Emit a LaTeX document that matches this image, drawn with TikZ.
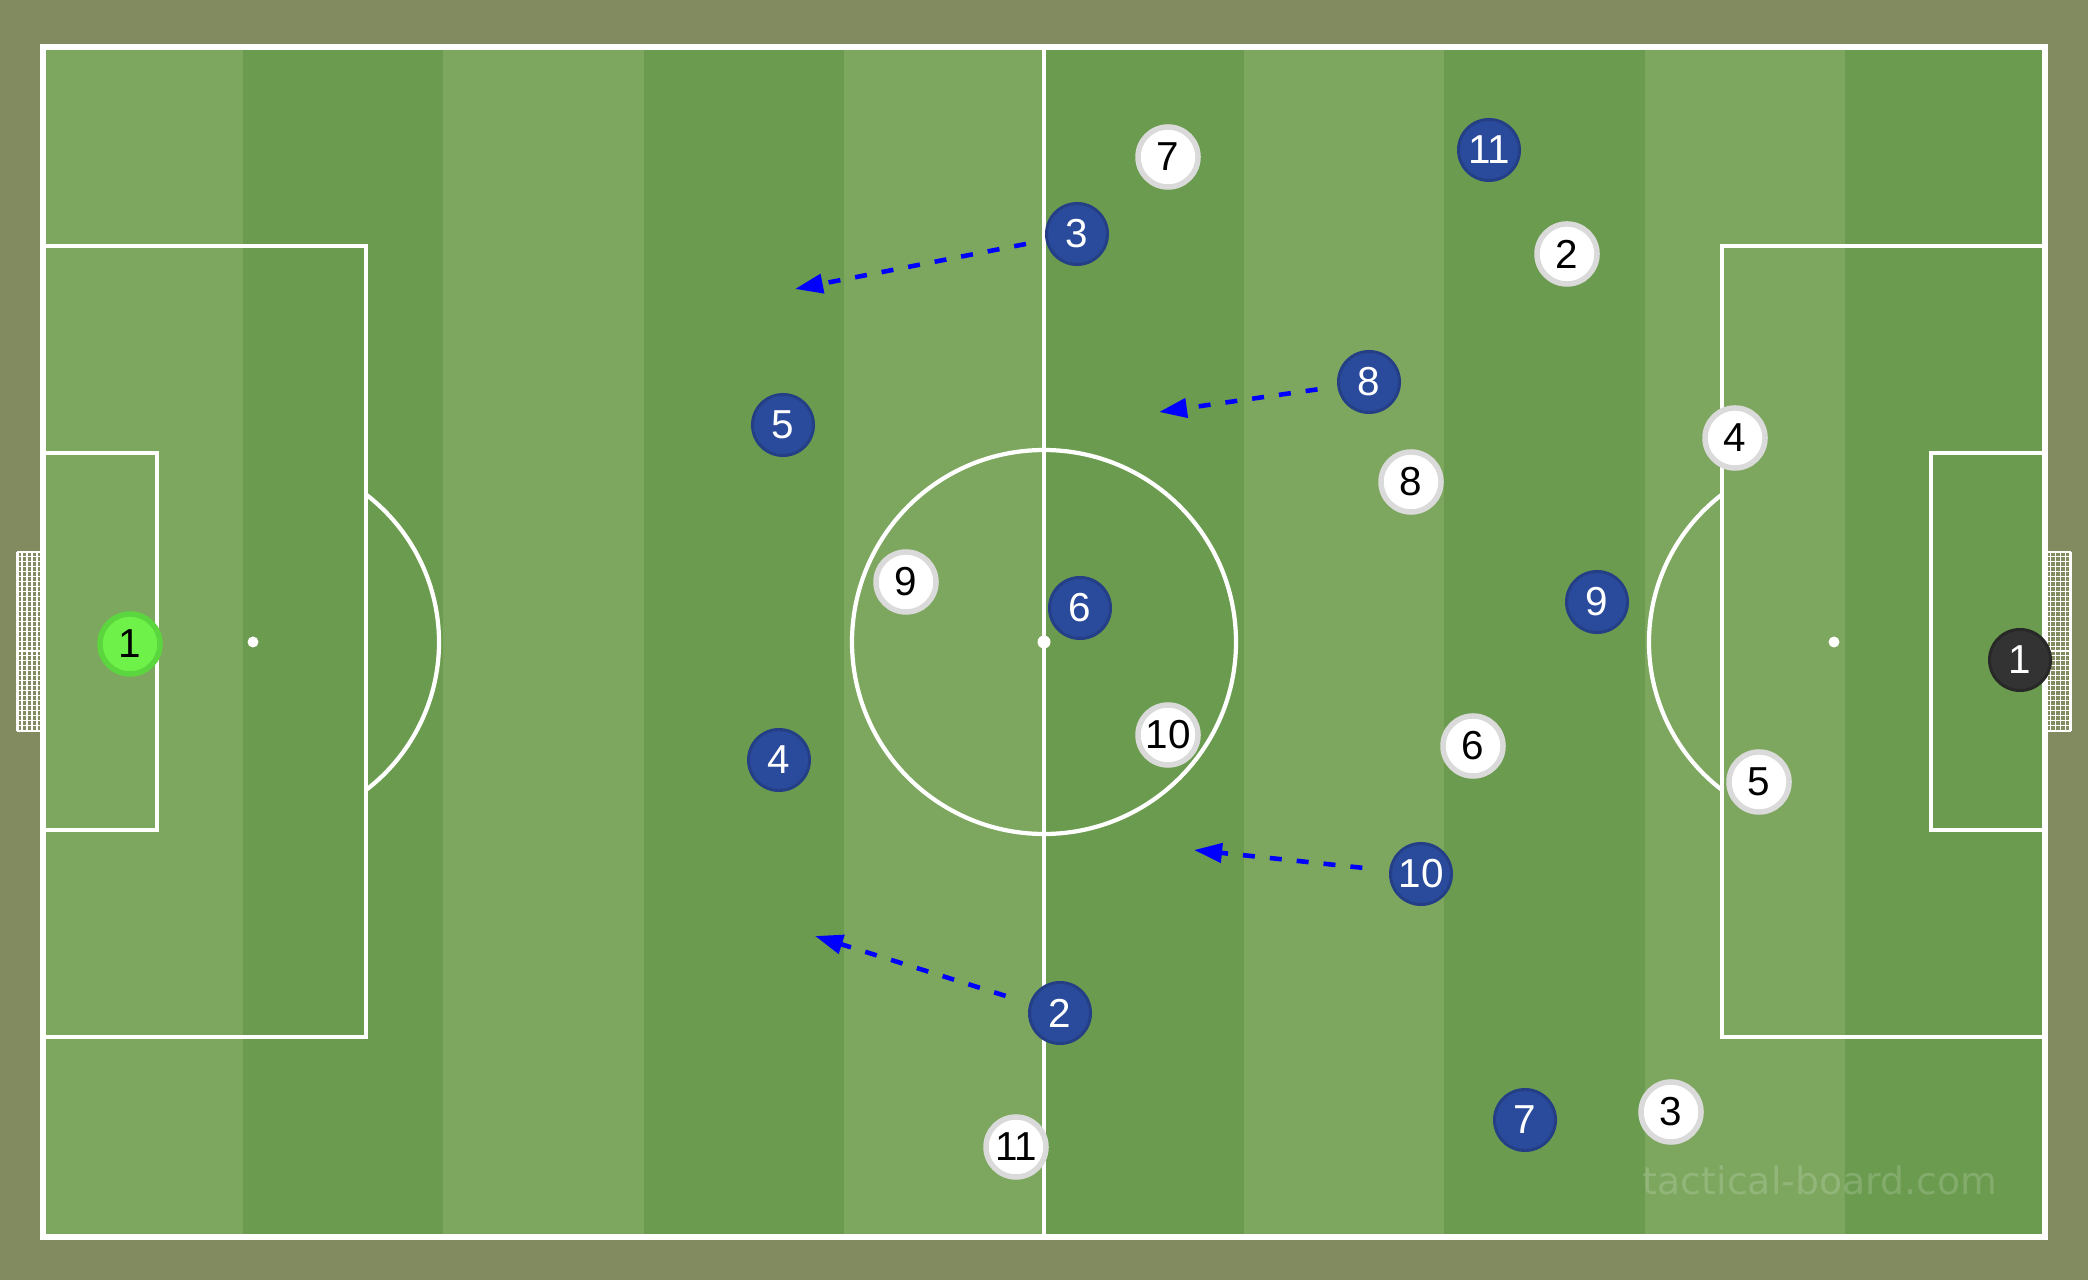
\documentclass[tikz,border=0pt]{standalone}
\usepackage{fontspec}
\setmainfont{Liberation Sans}
\newfontfamily\wmfont{DejaVu Sans}
\usetikzlibrary{arrows.meta}
\definecolor{bgc}{HTML}{818B5F}
\definecolor{lightg}{HTML}{7DA65E}
\definecolor{darkg}{HTML}{6B9B4E}
\definecolor{blueteam}{HTML}{2A4B9B}
\definecolor{blueedge}{HTML}{243F86}
\definecolor{greyedge}{HTML}{DADADA}
\definecolor{gkgreen}{HTML}{6EF24A}
\definecolor{gkgreenedge}{HTML}{5BD63E}
\definecolor{gkblack}{HTML}{333333}
\definecolor{gkblackedge}{HTML}{282828}
\definecolor{arrowblue}{HTML}{0000FF}
\tikzset{
  pline/.style={draw=white, line width=1.2pt},
  numfont/.style={font=\fontsize{11.5}{13}\selectfont},
  white player/.style={circle, fill=white, draw=greyedge, line width=1.56pt, minimum size=0.6cm, inner sep=0pt, text=black, numfont},
  blue player/.style={circle, fill=blueteam, draw=blueedge, line width=0.85pt, minimum size=0.61cm, inner sep=0pt, text=white, numfont},
  green keeper/.style={circle, fill=gkgreen, draw=gkgreenedge, line width=1.56pt, minimum size=0.6cm, inner sep=0pt, text=black, numfont},
  black keeper/.style={circle, fill=gkblack, draw=gkblackedge, line width=0.85pt, minimum size=0.61cm, inner sep=0pt, text=white, numfont},
  run/.style={draw=arrowblue, line width=1.3pt, dash pattern=on 0.12cm off 0.15cm, shorten <=0.2cm, -{Triangle[length=0.28cm, width=0.19cm]}},
  netline/.style={draw=white, line width=0.3pt}
}
\begin{document}
\begin{tikzpicture}[x=0.01cm, y=-0.01cm]
\useasboundingbox (0,0) rectangle (2088,1280);
\fill[bgc] (0,0) rectangle (2088,1280);
% stripes
\foreach \i in {0,...,9}{
  \pgfmathsetmacro{\xa}{43+200.2*\i}
  \pgfmathsetmacro{\xb}{43+200.2*(\i+1)}
  \pgfmathparse{mod(\i,2)==0 ? "lightg" : "darkg"}
  \edef\stripecol{\pgfmathresult}
  \fill[\stripecol] (\xa,47) rectangle (\xb,1237);
}
% goals (nets)
\foreach \k in {0,...,36}{
  \pgfmathsetmacro{\yy}{552+4.95*\k}
  \draw[netline] (17,\yy) -- (43,\yy);
  \draw[netline] (2045,\yy) -- (2071,\yy);
}
\foreach \k in {0,...,5}{
  \pgfmathsetmacro{\xl}{17+5*\k}
  \pgfmathsetmacro{\xr}{2045+5.2*\k}
  \draw[netline] (\xl,552) -- (\xl,731);
  \draw[netline] (\xr,552) -- (\xr,731);
}
\draw[white, line width=0.7pt] (43,552) -- (18,552) -- (18,731) -- (43,731);
\draw[white, line width=0.7pt] (2045,552) -- (2070,552) -- (2070,731) -- (2045,731);
% pitch lines
\draw[white, line width=1.6pt] (43,47) rectangle (2045,1237);
\draw[pline] (1044,47) -- (1044,1237);
\draw[pline] (1044,642) circle (192);
\fill[white] (1044,642) circle (6.5);
% left boxes
\draw[pline] (43,246) -- (366,246) -- (366,1037) -- (43,1037);
\draw[pline] (43,453) -- (157,453) -- (157,830) -- (43,830);
\fill[white] (253,642) circle (5.5);
\draw[pline] (366,790) arc[start angle=52.6, end angle=-52.6, radius=186];
% right boxes
\draw[pline] (2045,246) -- (1722,246) -- (1722,1037) -- (2045,1037);
\draw[pline] (2045,453) -- (1931,453) -- (1931,830) -- (2045,830);
\fill[white] (1834,642) circle (5.5);
\draw[pline] (1722,790) arc[start angle=127.4, end angle=232.6, radius=186];
% watermark
\node[text=white, opacity=0.17, inner sep=0pt] (wm) at (1820,1180) {\resizebox{3.54cm}{!}{\wmfont tactical-board.com}};
% arrow targets
\coordinate (t3) at (795,289);
\coordinate (t8) at (1159,412);
\coordinate (t10) at (1194,850);
\coordinate (t2) at (815,936);
% white team
\node[white player] (w7) at (1168,157) {7};
\node[white player] (w2) at (1567,254) {2};
\node[white player] (w4) at (1735,438) {4};
\node[white player] (w8) at (1411,482) {8};
\node[white player] (w9) at (906,582) {9};
\node[white player] (w10) at (1168,735) {10};
\node[white player] (w6) at (1473,746) {6};
\node[white player] (w5) at (1759,782) {5};
\node[white player] (w3) at (1671,1112) {3};
\node[white player] (w11) at (1016,1147) {11};
\node[black keeper] (w1) at (2020,660) {1};
% blue team
\node[blue player] (b11) at (1489,150) {11};
\node[blue player] (b3) at (1077,234) {3};
\node[blue player] (b8) at (1369,382) {8};
\node[blue player] (b5) at (783,425) {5};
\node[blue player] (b6) at (1080,608) {6};
\node[blue player] (b9) at (1597,602) {9};
\node[blue player] (b4) at (779,760) {4};
\node[blue player] (b10) at (1421,874) {10};
\node[blue player] (b2) at (1060,1013) {2};
\node[blue player] (b7) at (1525,1120) {7};
\node[green keeper] (b1) at (130,644) {1};
% runs
\draw[run] (b3) -- (t3);
\draw[run] (b8) -- (t8);
\draw[run, shorten <=0.27cm] (b10) -- (t10);
\draw[run, shorten <=0.25cm] (b2) -- (t2);
\end{tikzpicture}
\end{document}
